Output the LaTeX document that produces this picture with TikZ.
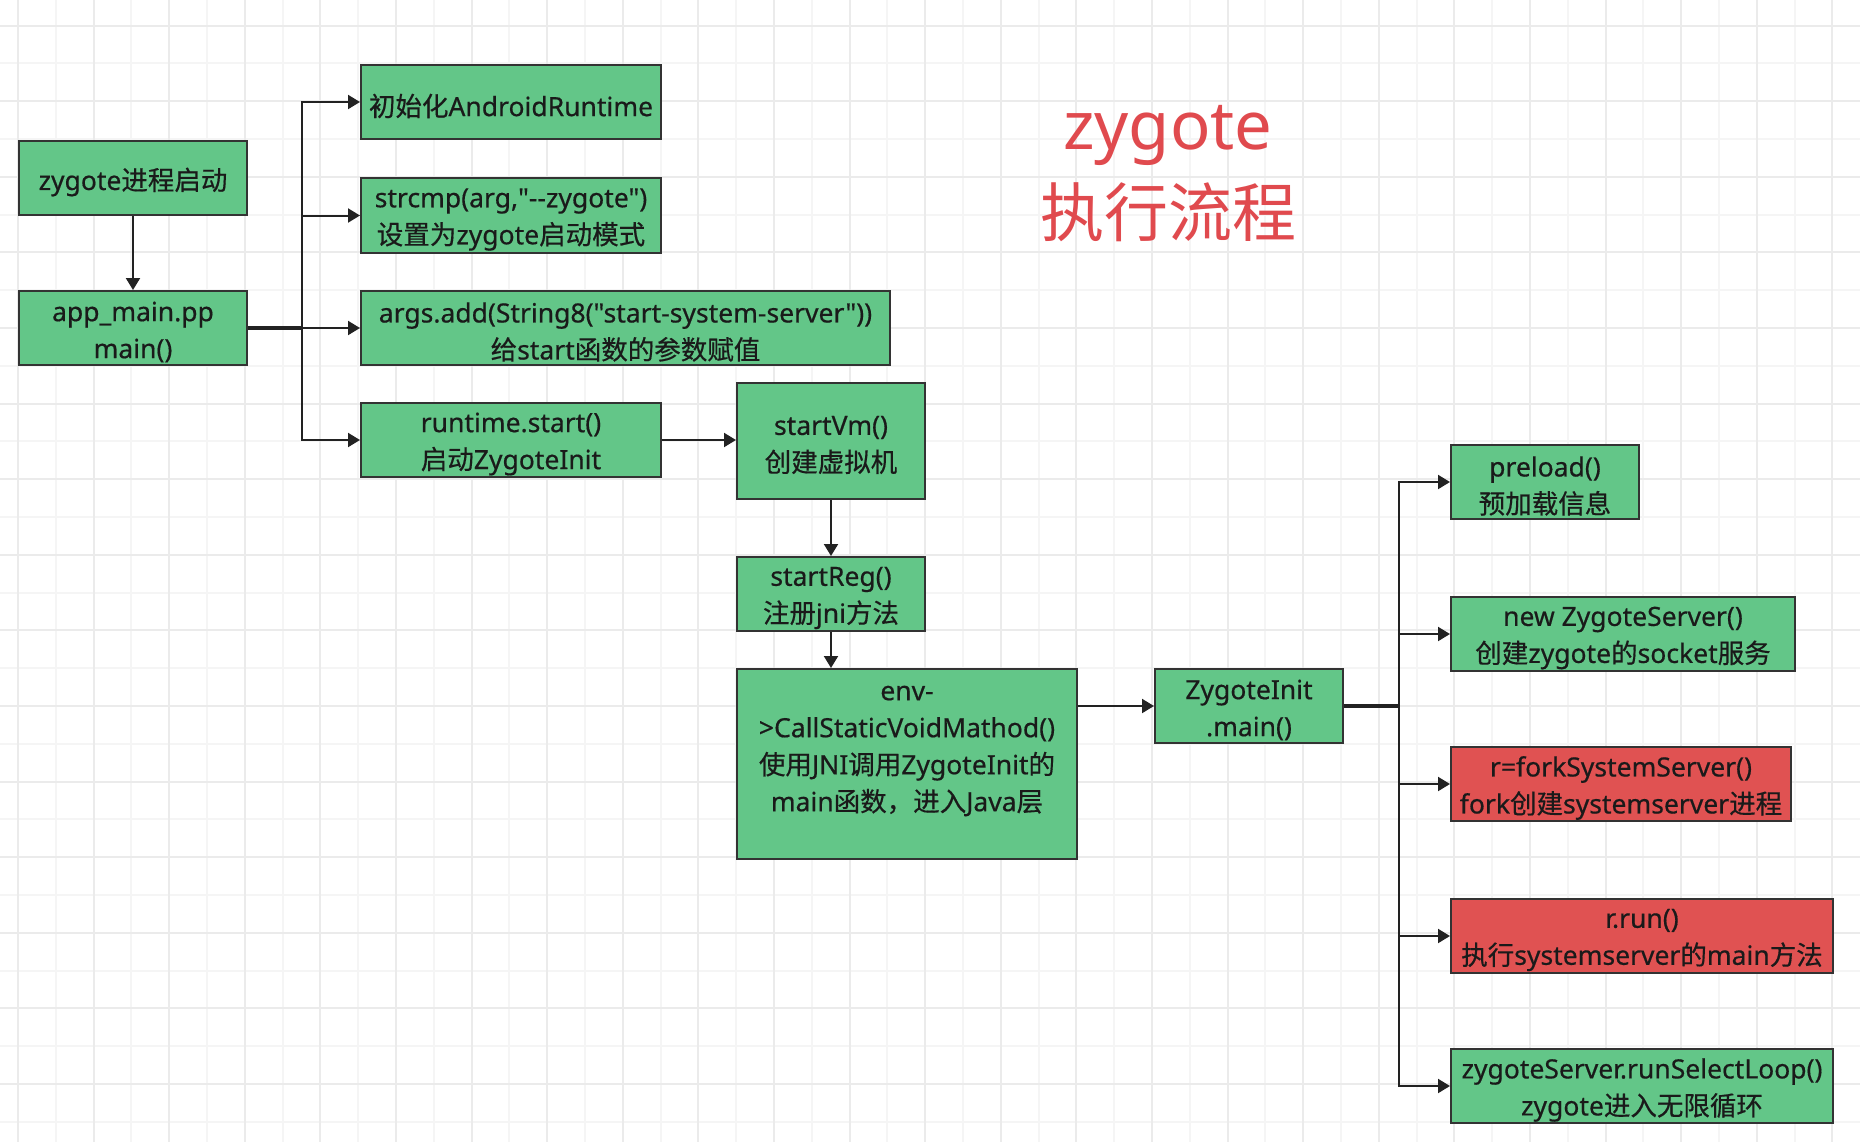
\documentclass[tikz,border=0pt]{standalone}
\usepackage{fontspec}
\setmainfont{Noto Sans}
\newfontfamily\plainfont{Noto Sans}[FakeBold=0.5]
\newfontfamily\cj{Noto Sans CJK SC}[FakeBold=0.5]
\newfontfamily\titlefont{Noto Sans}
\newfontfamily\titlecj{Noto Sans CJK SC}
\usetikzlibrary{arrows.meta}
\definecolor{boxgreen}{HTML}{63C688}
\definecolor{boxred}{HTML}{E05252}
\definecolor{boxline}{HTML}{333333}
\definecolor{gridA}{HTML}{EBEBEB}
\definecolor{gridB}{HTML}{F5F5F5}
\definecolor{titlered}{HTML}{E04A4E}
\definecolor{txt}{HTML}{1A1A1A}
\definecolor{wire}{HTML}{222222}
\newcommand\C[1]{{\cj #1}}
\newcommand\bx[7]{\node[box,fill=#6,minimum width={(#4-#2)*0.5pt},minimum height={(#5-#3)*0.5pt},
  label={[boxtext]center:{#7}}] (#1) at ({(#2+#4)/2},{(#3+#5)/2}) {};}
\begin{document}
\begin{tikzpicture}[x=0.5pt,y=-0.5pt,
  boxfont/.style={font=\plainfont\fontsize{13.25pt}{18.5pt}\selectfont},
  boxtext/.style={boxfont,text=txt,align=center,inner sep=0pt,yshift=-2pt},
  box/.style={draw=boxline,line width=1pt,inner sep=0pt},
  conn/.style={draw=wire,line width=1pt,-{Triangle[length=6pt,width=7pt]}},
  trunk/.style={draw=wire,line width=2pt},
  gridline/.style={line width=1pt}]
\useasboundingbox (0,0) rectangle (1860,1142);
\fill[white] (0,0) rectangle (1860,1142);
% background grid
\foreach \k in {0,...,48}{
  \pgfmathsetmacro\xx{18+37.8*\k}
  \ifodd\k \draw[gridline,gridB] (\xx,0) -- (\xx,1142); \fi
}
\foreach \k in {0,...,29}{
  \pgfmathsetmacro\yy{25.6+37.8*\k}
  \ifodd\k \draw[gridline,gridB] (0,\yy) -- (1860,\yy); \fi
}
\foreach \k in {0,...,48}{
  \pgfmathsetmacro\xx{18+37.8*\k}
  \ifodd\k\else \draw[gridline,gridA] (\xx,0) -- (\xx,1142); \fi
}
\foreach \k in {0,...,29}{
  \pgfmathsetmacro\yy{25.6+37.8*\k}
  \ifodd\k\else \draw[gridline,gridA] (0,\yy) -- (1860,\yy); \fi
}
% title
\node[anchor=base,text=titlered,font=\titlefont\fontsize{33.5pt}{40pt}\selectfont,inner sep=0pt] (t1) at (1168,149) {zygote};
\node[anchor=base,text=titlered,font=\titlecj\fontsize{32pt}{40pt}\selectfont,inner sep=0pt] (t2) at (1168,236) {执行流程};
% boxes
\bx{zyg}{19}{141}{247}{215}{boxgreen}{zygote\C{进程启动}}
\bx{app}{19}{291}{247}{365}{boxgreen}{app\_main.pp\\main()}
\bx{init}{361}{65}{661}{139}{boxgreen}{\C{初始化}AndroidRuntime}
\bx{cmp}{361}{178}{661}{253}{boxgreen}{strcmp(arg,"--zygote")\\\C{设置为}zygote\C{启动模式}}
\bx{args}{361}{291}{890}{365}{boxgreen}{args.add(String8("start-system-server"))\\\C{给}start\C{函数的参数赋值}}
\bx{rt}{361}{403}{661}{477}{boxgreen}{runtime.start()\\\C{启动}ZygoteInit}
\bx{vm}{737}{383}{925}{499}{boxgreen}{startVm()\\\C{创建虚拟机}}
\bx{reg}{737}{557}{925}{631}{boxgreen}{startReg()\\\C{注册}jni\C{方法}}
\node[box,fill=boxgreen,minimum width=170pt,minimum height=95pt] (env) at (907,764) {};
\node[boxtext,yshift=0pt] (envtxt) at (907,747) {env-\\>CallStaticVoidMathod()\\\C{使用}JNI\C{调用}ZygoteInit\C{的}\\main\C{函数，进入}Java\C{层}};
\bx{zi}{1155}{669}{1343}{743}{boxgreen}{ZygoteInit\\.main()}
\bx{pre}{1451}{445}{1639}{519}{boxgreen}{preload()\\\C{预加载信息}}
\bx{zs}{1451}{597}{1795}{671}{boxgreen}{new ZygoteServer()\\\C{创建}zygote\C{的}socket\C{服务}}
\bx{fork}{1451}{747}{1791}{821}{boxred}{r=forkSystemServer()\\fork\C{创建}systemserver\C{进程}}
\bx{run}{1451}{899}{1833}{973}{boxred}{r.run()\\\C{执行}systemserver\C{的}main\C{方法}}
\bx{loop}{1451}{1049}{1833}{1123}{boxgreen}{zygoteServer.runSelectLoop()\\zygote\C{进入无限循环}}
% connectors
\draw[conn] (zyg.south) -- (app.north);
\coordinate (b1) at (302,328);
\draw[trunk] (app.east) -- (b1);
\foreach \t in {init,cmp,args,rt}{\draw[conn] (b1) |- (\t.west);}
\draw[conn] (rt.east) -- (rt.east -| vm.west);
\draw[conn] (vm.south) -- (reg.north);
\draw[conn] (reg.south) -- (reg.south |- env.north);
\draw[conn] (env.east |- zi.west) -- (zi.west);
\coordinate (b2) at (1399,706);
\draw[trunk] (zi.east) -- (b2);
\foreach \t in {pre,zs,fork,run,loop}{\draw[conn] (b2) |- (\t.west);}
\end{tikzpicture}
\end{document}
